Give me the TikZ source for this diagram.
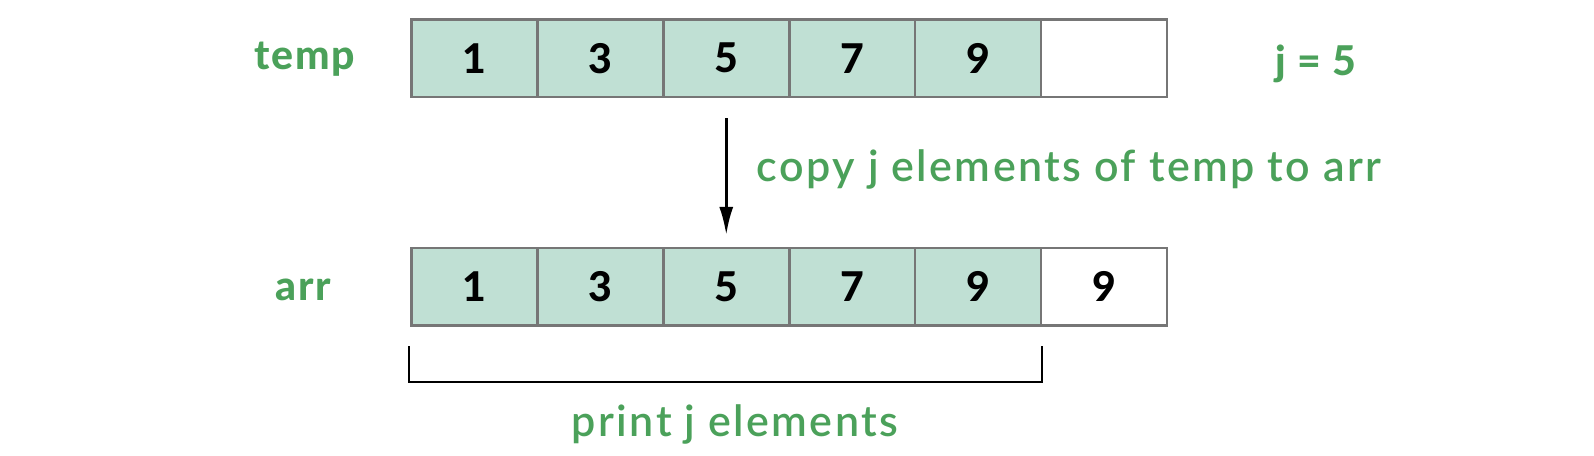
\documentclass[tikz,border=0pt]{standalone}
\usepackage{fontspec}
\setmainfont{Lato}
\newfontfamily\semifont{Lato Semibold}
\newfontfamily\heavyfont{Lato Heavy}
\usetikzlibrary{%
  arrows.meta,%
  calc,%
  positioning%
}
\tikzset{>={Latex[length=28pt,width=14pt]}}
\definecolor{cellgreen}{HTML}{C0E0D4}
\definecolor{txtgreen}{HTML}{4BA15A}
\definecolor{cellgray}{HTML}{767676}

\begin{document}
\begin{tikzpicture}[x=1pt,y=-1pt,
    cell/.style={draw=cellgray,line width=2.7pt,fill=cellgreen,minimum width=125.9pt,
      minimum height=77.5pt,inner sep=0pt,outer sep=0pt,font=\fontsize{41}{44}\selectfont\heavyfont},
    lbl/.style={text=txtgreen,inner sep=0pt,anchor=base,
      font=\fontsize{41}{44}\selectfont\heavyfont\addfontfeature{LetterSpace=4}},
    note/.style={text=txtgreen,inner sep=0pt,anchor=base,
      font=\fontsize{43}{46}\selectfont\semifont\addfontfeature{LetterSpace=5.5}}]
    \useasboundingbox (0,0) rectangle (1594,455);
    % temp row
    \foreach \v [count=\i] in {1,3,5,7,9}
      \node[cell] (t\i) at ({348.55+125.9*\i},58.2) {\v};
    \node[cell,fill=white,right=0pt of t5] (t6) {};
    % arr row
    \foreach \v [count=\i] in {1,3,5,7,9}
      \node[cell] (a\i) at ({348.55+125.9*\i},286.7) {\v};
    \node[cell,fill=white,right=0pt of a5] (a6) {9};
    \node[lbl] (temp) at (304.7,69) {temp};
    \node[lbl] (arr) at (303.3,300) {arr};
    \node[lbl] (jval) at (1315.5,75) {j = 5};
    % copy arrow
    \draw[->,line width=2.7pt,shorten <=21.3pt,shorten >=13pt] (t3.south) -- (a3.north);
    \node[note,anchor=base west] (copy) at (756.7,181.7) {copy j elements of temp to arr};
    % bracket
    \draw[line width=2.2pt] ([xshift=-2.5pt,yshift=-20.7pt]a1.south west)
      -- ([xshift=-2.5pt,yshift=-56.4pt]a1.south west)
      -- ([xshift=1pt,yshift=-56.4pt]a5.south east) -- ([xshift=1pt,yshift=-20.7pt]a5.south east);
    \node[note] (print) at (735,436) {print j elements};
  \end{tikzpicture}
\end{document}
